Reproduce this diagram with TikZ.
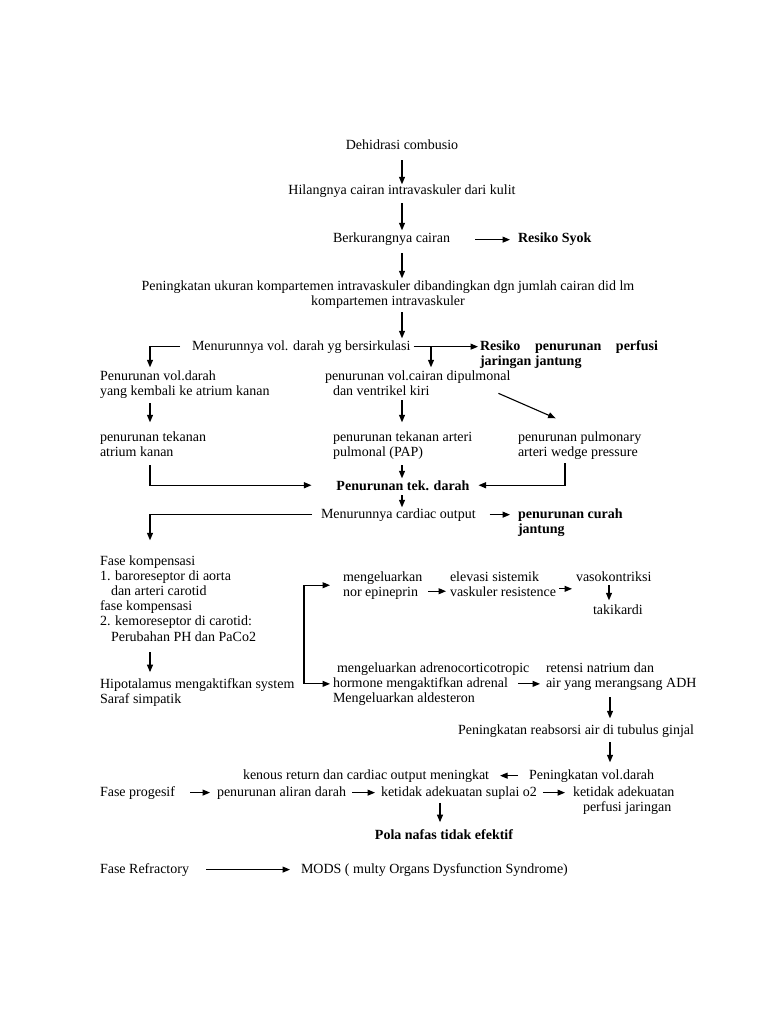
\documentclass[tikz,border=0pt]{standalone}
\usepackage{fontspec}
\setmainfont{Liberation Serif}
\usetikzlibrary{arrows.meta}
\begin{document}
\begin{tikzpicture}[x=1pt,y=-1pt,
 txt/.style={inner sep=0pt,outer sep=0pt,align=left,font=\fontsize{14}{15.2}\selectfont},
 btxt/.style={txt,font=\fontsize{14}{15.2}\selectfont\bfseries},
 arr/.style={-{Triangle[length=7.5pt,width=6pt]},line width=1.1pt},
 ln/.style={line width=1.1pt}]
\fill[white] (0,0) rectangle (768,1024);
\useasboundingbox (0,0) rectangle (768,1024);
\coordinate (colS) at (402,0);
\coordinate (colL) at (150,0);
\coordinate (colM) at (431,0);
\coordinate (colR) at (565,0);
\coordinate (colB) at (304,0);
\coordinate (colV) at (609,0);
\coordinate (colE) at (610,0);
\coordinate (colP) at (440,0);
% nodes (multi-line nodes: base = baseline of the last line)
\node[txt,anchor=base] (d1) at (402,150) {Dehidrasi combusio};
\node[txt,anchor=base] (d2) at (402,195) {Hilangnya cairan intravaskuler dari kulit};
\node[txt,anchor=base west] (d3) at (333,243) {Berkurangnya cairan};
\node[btxt,anchor=base west] (syok) at (518,243) {Resiko Syok};
\node[txt,align=center,anchor=base] (d4) at (388,305.2) {Peningkatan ukuran kompartemen intravaskuler dibandingkan dgn jumlah cairan did lm\\kompartemen intravaskuler};
\node[txt,anchor=base west] (d5) at (192,350) {Menurunnya vol. darah yg bersirkulasi};
\node[btxt,anchor=base west] (rpj) at (480,365.2) {\makebox[178pt][s]{Resiko penurunan perfusi}\\jaringan jantung};
\node[txt,anchor=base west] (L1) at (100,395.2) {Penurunan vol.darah\\yang kembali ke atrium kanan};
\node[txt,anchor=base west] (L2) at (100,456.2) {penurunan tekanan\\atrium kanan};
\node[txt,anchor=base west] (M1) at (325,395.2) {penurunan vol.cairan dipulmonal\\\hspace*{8pt}dan ventrikel kiri};
\node[txt,anchor=base west] (M2) at (333,456.2) {penurunan tekanan arteri\\pulmonal (PAP)};
\node[txt,anchor=base west] (R2) at (518,456.2) {penurunan pulmonary\\arteri wedge pressure};
\node[btxt,anchor=base] (ptd) at (403,490) {Penurunan tek. darah};
\node[txt,anchor=base west] (mco) at (321,518) {Menurunnya cardiac output};
\node[btxt,anchor=base west] (pcj) at (518,533.2) {penurunan curah\\jantung};
\node[txt,anchor=base west] (fk) at (100,641) {Fase kompensasi\\1. baroreseptor di aorta\\\hspace*{11pt}dan arteri carotid\\fase kompensasi\\2. kemoreseptor di carotid:\\\hspace*{11pt}Perubahan PH dan PaCo2};
\node[txt,anchor=base west] (hip) at (100,703.2) {Hipotalamus mengaktifkan system\\Saraf simpatik};
\node[txt,anchor=base west] (ne) at (343,596.2) {mengeluarkan\\nor epineprin};
\node[txt,anchor=base west] (evr) at (450,596.2) {elevasi sistemik\\vaskuler resistence};
\node[txt,anchor=base west] (vaso) at (576,581) {vasokontriksi};
\node[txt,anchor=base west] (taki) at (593,614) {takikardi};
\node[txt,anchor=base west] (acth) at (333,702.4) {\hspace*{4pt}mengeluarkan adrenocorticotropic\\hormone mengaktifkan adrenal\\Mengeluarkan aldesteron};
\node[txt,anchor=base west] (ret) at (546,687.2) {retensi natrium dan\\air yang merangsang ADH};
\node[txt,anchor=base west] (reab) at (458,734) {Peningkatan reabsorsi air di tubulus ginjal};
\node[txt,anchor=base west] (pvd) at (529,779) {Peningkatan vol.darah};
\node[txt,anchor=base west] (ken) at (243,779) {kenous return dan cardiac output meningkat};
\node[txt,anchor=base west] (fp) at (100,796) {Fase progesif};
\node[txt,anchor=base west] (pad) at (217,796) {penurunan aliran darah};
\node[txt,anchor=base west] (kas) at (381,796) {ketidak adekuatan suplai o2};
\node[txt,anchor=base west] (kap) at (573,811.2) {ketidak adekuatan\\\hspace*{10pt}perfusi jaringan};
\node[btxt,anchor=base] (pola) at (444,839) {Pola nafas tidak efektif};
\node[txt,anchor=base west] (fr) at (100,873) {Fase Refractory};
\node[txt,anchor=base west] (mods) at (301,873) {MODS ( multy Organs Dysfunction Syndrome)};
% spine
\draw[arr,shorten <=10pt,shorten >=1pt] (d1.south) -- (d2.north);
\draw[arr,shorten <=5pt,shorten >=3pt] (d2.south -| colS) -- (d3.north -| colS);
\draw[arr,shorten <=7pt,shorten >=2pt] (d3.south -| colS) -- (d4.north -| colS);
\draw[arr,shorten <=4pt,shorten >=2pt] (d4.south -| colS) -- (d5.north -| colS);
\draw[arr,shorten <=25pt,shorten >=8pt] (d3.east) -- (d3.east -| syok.west);
% d5 branches
\draw[arr,shorten >=3pt] ([xshift=-12pt]d5.west) -| (L1.north -| colL);
\draw[arr,shorten <=3pt,shorten >=2pt] (d5.east) -- (d5.east -| rpj.west);
\draw[arr,shorten >=3pt] (d5.east -| colM) -- (M1.north -| colM);
% left column
\draw[arr,shorten <=5pt,shorten >=9pt] (L1.south -| colL) -- (L2.north -| colL);
\draw[arr,shorten >=25pt] ([yshift=-9pt]L2.south -| colL) |- (ptd.west);
% middle column
\draw[arr,shorten <=5pt,shorten >=9pt] (M1.south -| colS) -- (M2.north -| colS);
\draw[arr,shorten <=6pt,shorten >=2pt] (M2.south -| colS) -- (ptd.north -| colS);
\draw[arr] ([xshift=-12pt,yshift=2pt]M1.south east) -- ([xshift=-24pt,yshift=13pt]R2.north);
\draw[arr,shorten >=9pt] ([yshift=-4pt]R2.south -| colR) |- (ptd.east);
% cardiac output
\draw[arr,shorten <=5pt,shorten >=1pt] (ptd.south -| colS) -- (mco.north -| colS);
\draw[arr,shorten <=14pt,shorten >=8pt] (mco.east) -- (mco.east -| pcj.west);
\draw[arr,shorten >=15pt] ([xshift=-9pt]mco.west) -| (fk.north -| colL);
\draw[arr,shorten <=11pt,shorten >=6pt] (fk.south -| colL) -- (hip.north -| colL);
% bracket
\draw[arr,shorten >=13pt] (colB |- acth.west) |- (ne.west);
\draw[arr,shorten >=3pt] (colB |- ne.west) |- (acth.west);
\draw[arr,shorten <=6pt,shorten >=4pt] ([yshift=-6pt]ne.east) -- ([yshift=-6pt]ne.east -| evr.west);
\draw[arr,shorten <=3pt,shorten >=4pt] ([yshift=-5pt]evr.east) -- ([yshift=-5pt]evr.east -| vaso.west);
\draw[arr,shorten <=4pt,shorten >=4pt] (vaso.south -| colV) -- (taki.north -| colV);
\draw[arr,shorten <=-11pt,shorten >=6pt] (acth.east) -- (acth.east -| ret.west);
\draw[arr,shorten <=7pt,shorten >=6pt] (ret.south -| colE) -- (reab.north -| colE);
\draw[arr,shorten <=5pt,shorten >=7pt] (reab.south -| colE) -- (pvd.north -| colE);
% lower rows
\draw[arr,shorten <=11pt,shorten >=11pt] (pvd.west) -- (pvd.west -| ken.east);
\draw[arr,shorten <=15pt,shorten >=7pt] (fp.east) -- (fp.east -| pad.west);
\draw[arr,shorten <=6pt,shorten >=6pt] (pad.east) -- (pad.east -| kas.west);
\draw[arr,shorten <=6pt,shorten >=8pt] (kas.east) -- (kas.east -| kap.west);
\draw[arr,shorten <=4pt,shorten >=7pt] (kas.south -| colP) -- (pola.north -| colP);
\draw[arr,shorten <=17pt,shorten >=11pt] (fr.east) -- (fr.east -| mods.west);
\end{tikzpicture}
\end{document}
